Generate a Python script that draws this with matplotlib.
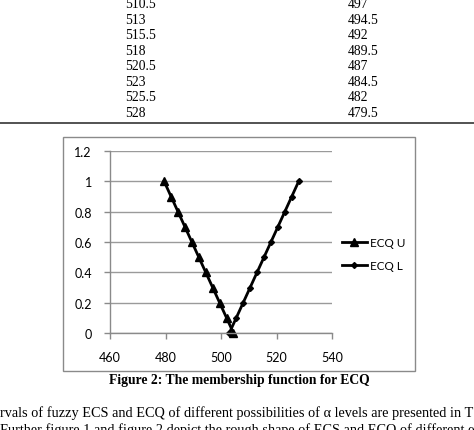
import matplotlib
matplotlib.use("Agg")
import matplotlib.pyplot as plt
from matplotlib.patches import Rectangle
from matplotlib.lines import Line2D

# ---- data ----
alpha = [0.0, 0.1, 0.2, 0.3, 0.4, 0.5, 0.6, 0.7, 0.8, 0.9, 1.0]
ecq_u = [504.5, 502, 499.5, 497, 494.5, 492, 489.5, 487, 484.5, 482, 479.5]
ecq_l = [503, 505.5, 508, 510.5, 513, 515.5, 518, 520.5, 523, 525.5, 528]
table_left = ["510.5", "513", "515.5", "518", "520.5", "523", "525.5", "528"]
table_right = ["497", "494.5", "492", "489.5", "487", "484.5", "482", "479.5"]
x_ticks = [460, 480, 500, 520, 540]
y_ticks = [0, 0.2, 0.4, 0.6, 0.8, 1, 1.2]
y_ticklabels = ["0", "0.2", "0.4", "0.6", "0.8", "1", "1.2"]
caption = "Figure 2: The membership function for ECQ"
body_lines = [
    "rvals of fuzzy ECS and ECQ of different possibilities of \u03b1 levels are presented in T",
    "Further figure 1 and figure 2 depict the rough shape of ECS and ECQ of different \u03b1 v",
]

W, H = 474, 431
fig = plt.figure(figsize=(W / 100, H / 100), dpi=100)
fig.patch.set_facecolor("white")

def fx(px):
    return px / W

def fy(py):
    return 1 - py / H

serif = ["Liberation Serif", "DejaVu Serif"]
sans = ["Lato", "DejaVu Sans"]

# ---- table fragment ----
for i, (l, r) in enumerate(zip(table_left, table_right)):
    yy = 4.5 + i * 15.55
    fig.text(fx(125), fy(yy), l, family=serif, fontsize=9.8, va="center", ha="left")
    fig.text(fx(348), fy(yy), r, family=serif, fontsize=9.8, va="center", ha="left")
fig.add_artist(Line2D([0, 1], [fy(123.5), fy(123.5)], color="#444444", lw=1.3,
                      transform=fig.transFigure))

# ---- chart frame ----
fig.add_artist(Rectangle((fx(63), fy(372)), fx(415) - fx(63), fy(138) - fy(372),
                         transform=fig.transFigure, fill=False, edgecolor="#8a8a8a", lw=1.0))

# ---- axes ----
ax = fig.add_axes([fx(110), fy(334), fx(332) - fx(110), fy(152) - fy(334)])
ax.set_xlim(460, 540)
ax.set_ylim(0, 1.2)
ax.set_xticks(x_ticks)
ax.set_yticks(y_ticks)
ax.set_yticklabels(y_ticklabels)
for s in ["top", "right"]:
    ax.spines[s].set_visible(False)
for s in ["left", "bottom"]:
    ax.spines[s].set_color("#8a8a8a")
    ax.spines[s].set_linewidth(1.0)
ax.grid(axis="y", color="#9a9a9a", lw=1.0)
ax.set_axisbelow(True)
ax.tick_params(axis="both", direction="out", length=4, color="#8a8a8a", width=1,
               labelsize=9)
for lab in ax.get_xticklabels() + ax.get_yticklabels():
    lab.set_family(sans)
ax.tick_params(axis="x", pad=9)
ax.tick_params(axis="y", pad=9)

ax.plot(ecq_u, alpha, color="black", lw=2, marker="^", ms=5.5, label="ECQ U", clip_on=False)
ax.plot(ecq_l, alpha, color="black", lw=2, marker="D", ms=3, label="ECQ L", clip_on=False)

leg = fig.legend(loc="center left", bbox_to_anchor=(fx(342), fy(255)), frameon=False,
                 prop={"family": sans, "size": 8.5}, borderpad=0, borderaxespad=0,
                 handlelength=2.1, handletextpad=0.25, labelspacing=1.0)

# ---- caption and body ----
fig.text(fx(239), fy(381), caption, family=serif, fontsize=9.8, fontweight="bold",
         ha="center", va="center")
fig.text(fx(0), fy(413), body_lines[0], family=serif, fontsize=10.3, ha="left", va="center")
fig.text(fx(0), fy(430), body_lines[1], family=serif, fontsize=10.3, ha="left", va="center")

fig.savefig("out.png", dpi=100, facecolor="white")
